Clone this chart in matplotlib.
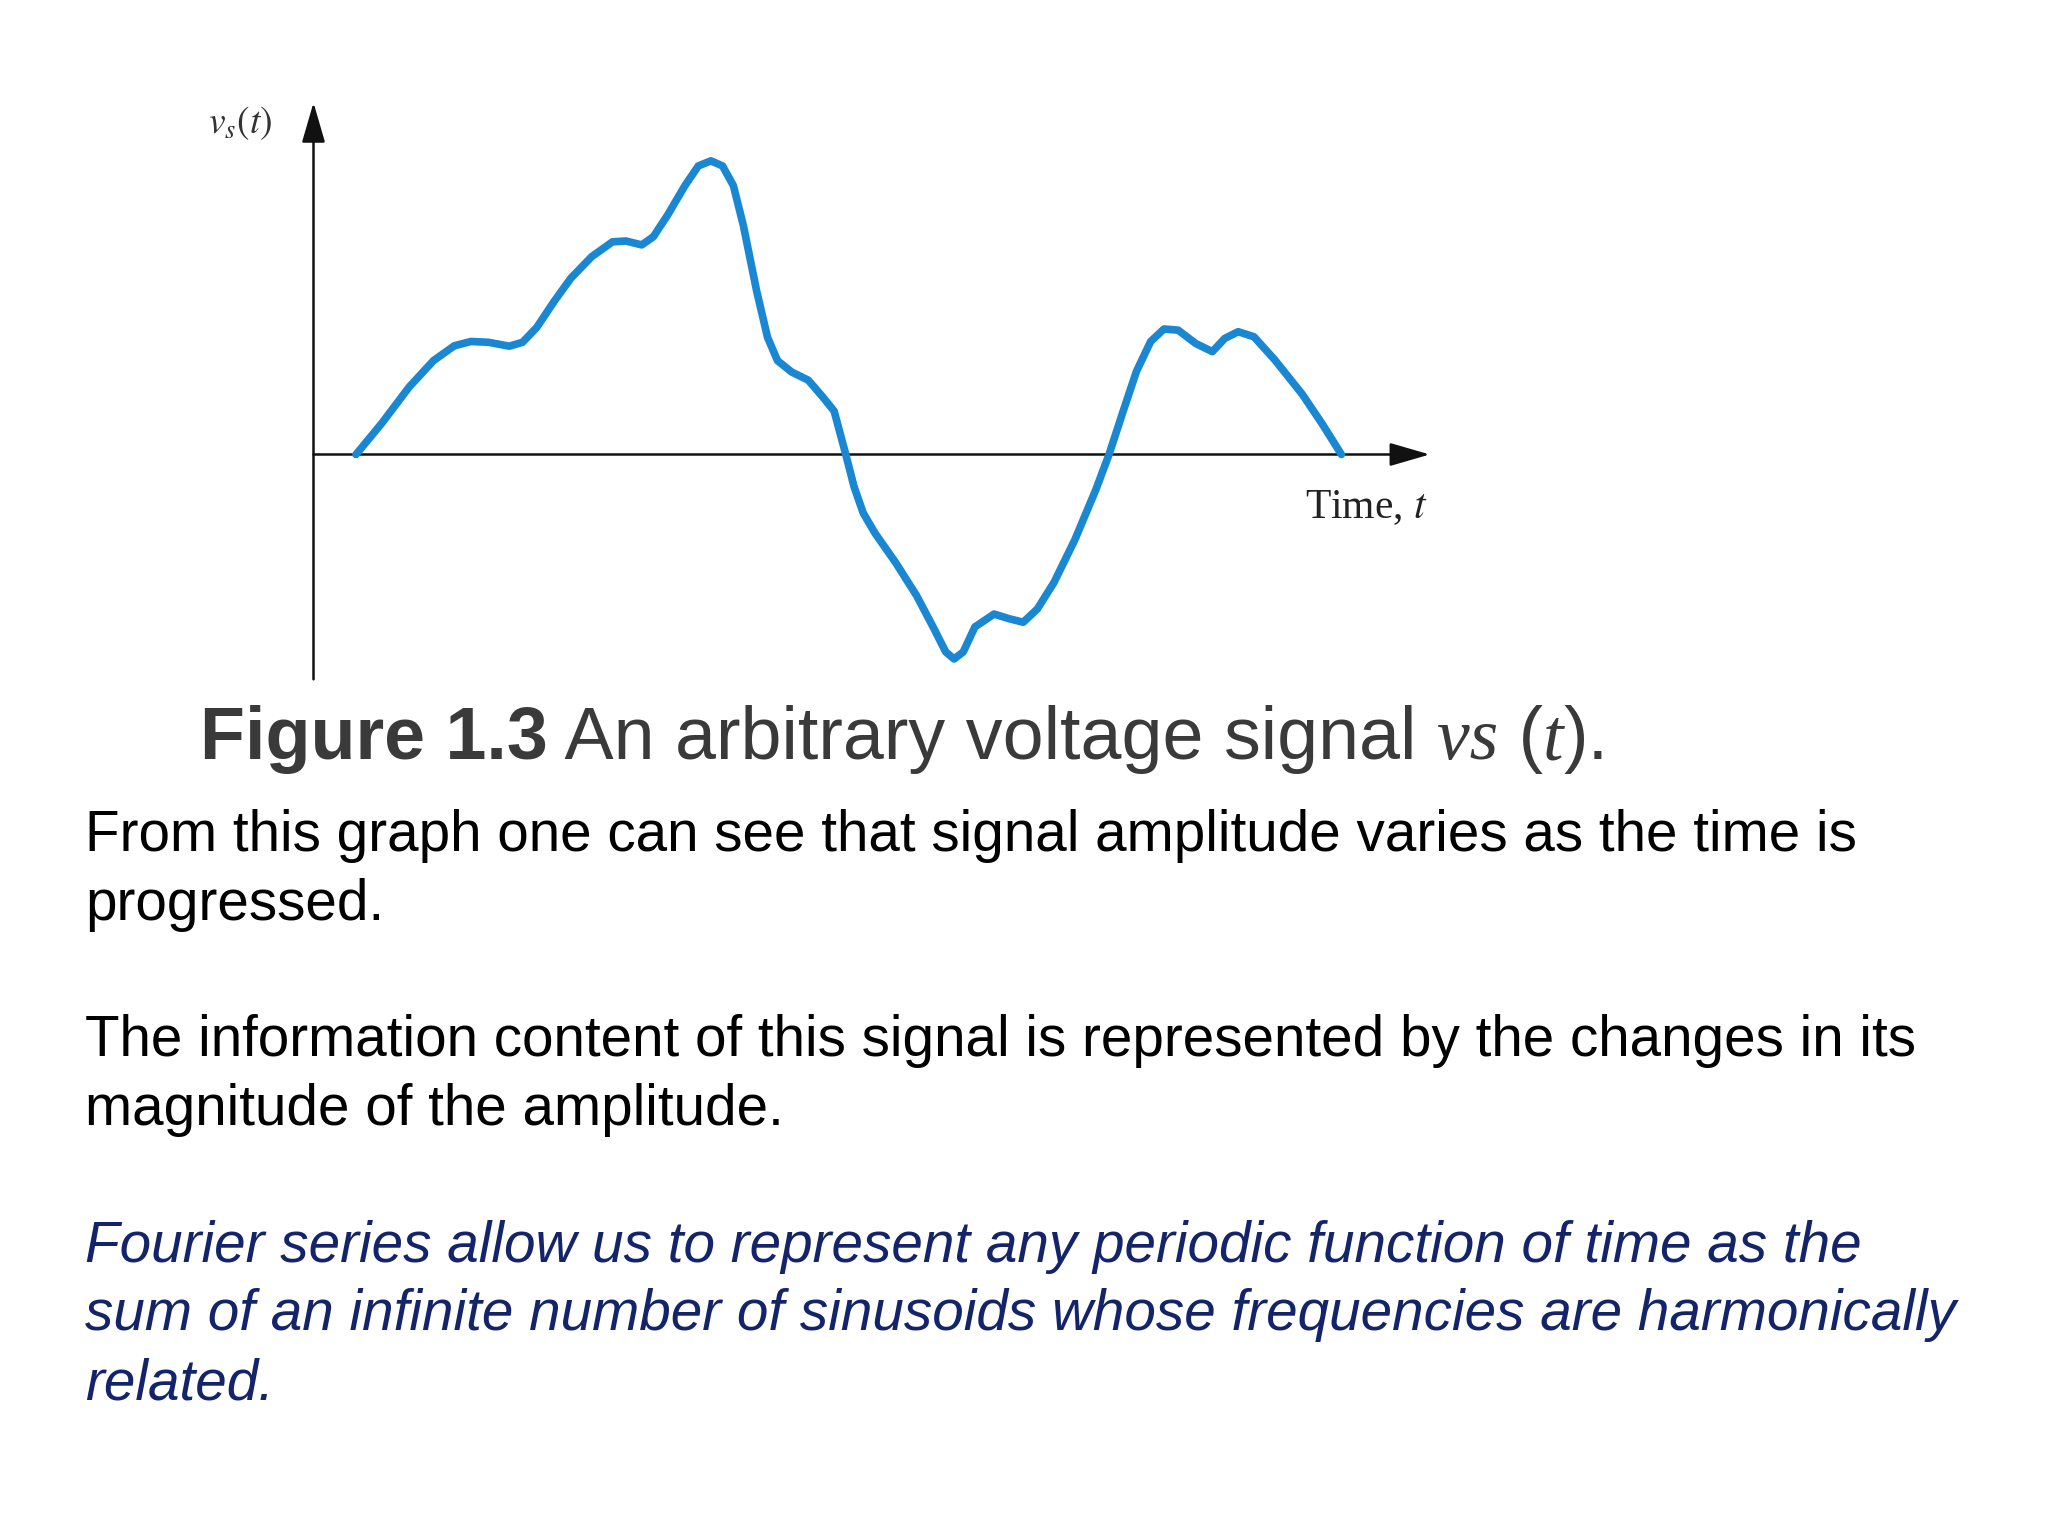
import matplotlib
matplotlib.use('Agg')
import matplotlib.pyplot as plt

plt.rcParams['mathtext.fontset'] = 'stix'

# signal (time, amplitude in arbitrary units)
t = [0.51, 0.82, 1.15, 1.44, 1.69, 1.89, 2.10, 2.35, 2.51, 2.68, 2.89, 3.09,
     3.34, 3.59, 3.75, 3.94, 4.08, 4.25, 4.46, 4.62, 4.77, 4.91, 5.04, 5.16,
     5.32, 5.45, 5.57, 5.74, 5.94, 6.11, 6.25, 6.39, 6.49, 6.60, 6.74, 6.99,
     7.24, 7.45, 7.59, 7.69, 7.80, 7.94, 8.17, 8.35, 8.52, 8.69, 8.89, 9.14,
     9.39, 9.55, 9.72, 9.88, 10.05, 10.21, 10.38, 10.59, 10.79, 10.94, 11.10,
     11.29, 11.54, 11.87, 12.11, 12.34]
v = [0.0, 0.80, 1.73, 2.40, 2.78, 2.89, 2.87, 2.77, 2.87, 3.25, 3.92, 4.51,
     5.06, 5.44, 5.46, 5.36, 5.57, 6.12, 6.88, 7.38, 7.51, 7.38, 6.88, 5.86,
     4.18, 3.00, 2.40, 2.11, 1.90, 1.48, 1.11, 0.0, -0.83, -1.50, -2.01, -2.77,
     -3.61, -4.46, -5.05, -5.23, -5.05, -4.41, -4.08, -4.20, -4.29, -3.95, -3.27, -2.18,
     -0.91, 0.0, 1.11, 2.13, 2.89, 3.21, 3.18, 2.84, 2.63, 2.97, 3.14,
     3.01, 2.42, 1.54, 0.78, 0.0]

t_axis_end = 13.4
v_axis_top = 9.0
v_axis_bottom = -5.75

ylabel = r'$v_s(t)$'
xlabel = r'Time, $t$'

caption_parts = [('Figure 1.3', 'Liberation Sans', 'normal', 'bold'),
                 (' An arbitrary voltage signal ', 'Liberation Sans', 'normal', 'normal'),
                 ('vs', 'Liberation Serif', 'italic', 'normal'),
                 (' (', 'Liberation Sans', 'normal', 'normal'),
                 ('t', 'Liberation Serif', 'italic', 'normal'),
                 (').', 'Liberation Sans', 'normal', 'normal')]

para_lines = ['From this graph one can see that signal amplitude varies as the time is',
              'progressed.',
              '',
              'The information content of this signal is represented by the changes in its',
              'magnitude of the amplitude.',
              '',
              'Fourier series allow us to represent any periodic function of time as the',
              'sum of an infinite number of sinusoids whose frequencies are harmonically',
              'related.']
italic_from = 6

W, H = 2048, 1536
fig = plt.figure(figsize=(W / 100, H / 100), dpi=100)
fig.patch.set_facecolor('white')

ax = fig.add_axes([0.13274, 0.54628, 0.58977, 0.39966])
ax.set_xlim(-0.5, 14)
ax.set_ylim(-6.2, 9.5)
ax.axis('off')

# axes with arrow heads
ax.annotate('', xy=(t_axis_end, 0), xytext=(0, 0),
            arrowprops=dict(arrowstyle='-|>,head_length=0.62,head_width=0.18',
                            lw=1.8, color='#111111', shrinkA=0, shrinkB=0,
                            mutation_scale=40))
ax.annotate('', xy=(0, v_axis_top), xytext=(0, v_axis_bottom),
            arrowprops=dict(arrowstyle='-|>,head_length=0.62,head_width=0.18',
                            lw=1.8, color='#111111', shrinkA=0, shrinkB=0,
                            mutation_scale=40))

ax.plot(t, v, color='#1a87d2', lw=5.5, solid_joinstyle='round',
        solid_capstyle='round', zorder=3)

fig.text(208 / W, 1 - 133 / H, ylabel, fontsize=27, color='#333333',
         ha='left', va='baseline')
fig.text(1305 / W, 1 - 518 / H, xlabel, fontsize=30, color='#222222',
         family='Liberation Serif', ha='left', va='baseline')

# caption, built piece by piece
renderer = fig.canvas.get_renderer()
x = 200
for txt, fam, sty, wt in caption_parts:
    tt = fig.text(x / W, 1 - 759 / H, txt, fontsize=53, color='#3a3a3a',
                  family=fam, style=sty, weight=wt, ha='left', va='baseline')
    x = tt.get_window_extent(renderer).x1

for i, line in enumerate(para_lines):
    if not line:
        continue
    ital = i >= italic_from
    fig.text(85 / W, 1 - (851 + i * 68.5) / H, line, fontsize=40.8,
             family='Liberation Sans', style='italic' if ital else 'normal',
             color='#13246a' if ital else 'black', ha='left', va='baseline')

fig.savefig('out.png', dpi=100, facecolor='white')
